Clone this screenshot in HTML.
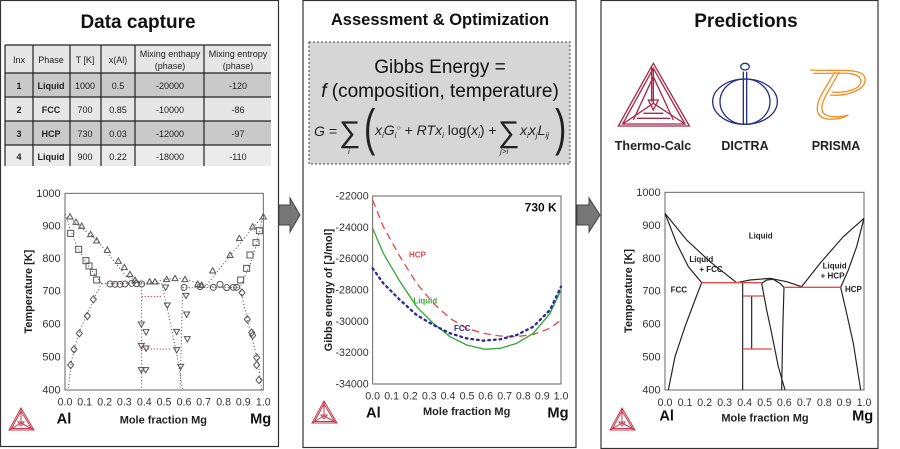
<!DOCTYPE html>
<html><head><meta charset="utf-8"><style>
html,body{margin:0;padding:0;background:#fff;}
svg{display:block;font-family:"Liberation Sans",Arial,sans-serif;}
</style></head><body>
<svg width="900" height="449" viewBox="0 0 900 449" xmlns="http://www.w3.org/2000/svg">
<defs>
<path id="tu" d="M0,-9 L9,7 L-9,7 Z" fill="none" stroke="#555" stroke-width="3"/>
<path id="td" d="M0,9 L9,-7 L-9,-7 Z" fill="none" stroke="#555" stroke-width="3"/>
<rect id="sq" x="-9" y="-9" width="18" height="18" fill="none" stroke="#555" stroke-width="3"/>
<circle id="ci" r="9" fill="none" stroke="#555" stroke-width="3"/>
<path id="di" d="M0,-11 L9,0 L0,11 L-9,0 Z" fill="none" stroke="#555" stroke-width="3"/>
<g id="logo" fill="none" stroke="#c0394e" stroke-width="1">
<path d="M12,0 L0,22 L25,22 Z"/><path d="M12,3 L2.5,20.5 L22.5,20.5 Z"/>
<path d="M12,0 L12,15 L0,22 M12,15 L25,22"/><path d="M9,14 L15,14 L12,18 Z"/>
</g>
</defs>

<!-- panel borders -->
<rect x="0.5" y="0.5" width="278" height="446" fill="none" stroke="#333" stroke-width="1.2"/>
<rect x="303" y="0.5" width="273" height="447" fill="none" stroke="#333" stroke-width="1.2"/>
<rect x="601" y="0.5" width="277" height="448" fill="none" stroke="#333" stroke-width="1.2"/>

<!-- arrows -->
<polygon points="279,205 290,205 290,198 300,215 290,232 290,225 279,225" fill="#777" stroke="#444" stroke-width="1"/>
<polygon points="577,205 589,205 589,198 600,215 589,232 589,225 577,225" fill="#777" stroke="#444" stroke-width="1"/>

<!-- titles -->
<text x="138" y="28" font-size="19" font-weight="bold" text-anchor="middle" fill="#111">Data capture</text>
<text x="440" y="25" font-size="16.5" font-weight="bold" text-anchor="middle" fill="#111">Assessment &amp; Optimization</text>
<text x="746" y="27" font-size="19" font-weight="bold" text-anchor="middle" fill="#111">Predictions</text>

<!-- table -->
<g font-size="9" fill="#222" text-anchor="middle">
<rect x="5" y="45" width="266" height="28" fill="#e6e6e6"/>
<rect x="5" y="73" width="266" height="24" fill="#c9c9c9"/>
<rect x="5" y="97" width="266" height="24" fill="#e6e6e6"/>
<rect x="5" y="121" width="266" height="24" fill="#c9c9c9"/>
<rect x="5" y="145" width="266" height="21" fill="#ebebeb"/>
<g stroke="#222" stroke-width="1.2">
<line x1="5" y1="45" x2="271" y2="45"/><line x1="5" y1="73" x2="271" y2="73"/>
<line x1="5" y1="97" x2="271" y2="97"/><line x1="5" y1="121" x2="271" y2="121"/>
<line x1="5" y1="145" x2="271" y2="145"/>
<line x1="5" y1="45" x2="5" y2="166"/><line x1="33" y1="45" x2="33" y2="166"/>
<line x1="70" y1="45" x2="70" y2="166"/><line x1="101" y1="45" x2="101" y2="166"/>
<line x1="135" y1="45" x2="135" y2="166"/><line x1="204" y1="45" x2="204" y2="166"/>
</g>
<text x="19" y="63">Inx</text><text x="51" y="63">Phase</text><text x="85" y="63">T [K]</text><text x="118" y="63">x(Al)</text>
<text x="170" y="57">Mixing enthapy</text><text x="170" y="69">(phase)</text>
<text x="238" y="57">Mixing entropy</text><text x="238" y="69">(phase)</text>
<g font-weight="bold">
<text x="19" y="89">1</text><text x="51" y="89">Liquid</text>
<text x="19" y="113">2</text><text x="51" y="113">FCC</text>
<text x="19" y="137">3</text><text x="51" y="137">HCP</text>
<text x="19" y="160">4</text><text x="51" y="160">Liquid</text>
</g>
<text x="85" y="89">1000</text><text x="118" y="89">0.5</text><text x="170" y="89">-20000</text><text x="238" y="89">-120</text>
<text x="85" y="113">700</text><text x="118" y="113">0.85</text><text x="170" y="113">-10000</text><text x="238" y="113">-86</text>
<text x="85" y="137">730</text><text x="118" y="137">0.03</text><text x="170" y="137">-12000</text><text x="238" y="137">-97</text>
<text x="85" y="160">900</text><text x="118" y="160">0.22</text><text x="170" y="160">-18000</text><text x="238" y="160">-110</text>
</g>

<!-- LEFT CHART (zoom coords) -->
<g transform="translate(0,180) scale(0.33333)">
<rect x="195" y="40" width="595" height="590" fill="none" stroke="#666" stroke-width="3"/>
<g font-size="33" fill="#333" text-anchor="end">
<text x="182" y="51">1000</text><text x="182" y="148">900</text><text x="182" y="246">800</text><text x="182" y="344">700</text><text x="182" y="443">600</text><text x="182" y="541">500</text><text x="182" y="641">400</text>
</g>
<g font-size="32" fill="#333" text-anchor="middle">
<text x="195" y="676">0.0</text><text x="254" y="676">0.1</text><text x="314" y="676">0.2</text><text x="373" y="676">0.3</text><text x="433" y="676">0.4</text><text x="492" y="676">0.5</text><text x="552" y="676">0.6</text><text x="611" y="676">0.7</text><text x="671" y="676">0.8</text><text x="730" y="676">0.9</text><text x="790" y="676">1.0</text>
</g>
<text x="192" y="730" font-size="44" font-weight="bold" text-anchor="middle" fill="#111">Al</text>
<text x="490" y="730" font-size="33" font-weight="bold" text-anchor="middle" fill="#222">Mole fraction Mg</text>
<text x="782" y="730" font-size="44" font-weight="bold" text-anchor="middle" fill="#111">Mg</text>
<text transform="translate(96,335) rotate(-90)" font-size="33" font-weight="bold" text-anchor="middle" fill="#222">Temperature [K]</text>
<g fill="none" stroke="#444" stroke-width="3" stroke-dasharray="3,7">
<polyline points="195,103 290,180 380,290 430,310"/>
<polyline points="195,103 230,200 270,265 305,310"/>
<polyline points="305,310 280,360 240,450 215,540 205,625"/>
<line x1="425" y1="310" x2="425" y2="630"/>
<polyline points="485,310 505,400 530,520 548,630"/>
<polyline points="548,320 545,450 540,630"/>
<polyline points="430,310 520,295 555,296 600,312 650,323"/>
<polyline points="620,315 700,215 790,105"/>
<polyline points="790,105 760,230 720,323"/>
<polyline points="720,323 745,430 775,550 785,630"/>
</g>
<g fill="none" stroke="#e04040" stroke-width="3" stroke-dasharray="4,5">
<line x1="305" y1="310" x2="480" y2="310"/><line x1="425" y1="350" x2="488" y2="350"/>
<line x1="425" y1="507" x2="515" y2="507"/><line x1="548" y1="323" x2="720" y2="323"/>
</g>
<g>
<use href="#tu" x="210" y="110"/><use href="#tu" x="228" y="126"/><use href="#tu" x="245" y="138"/><use href="#tu" x="272" y="163"/><use href="#tu" x="290" y="182"/><use href="#tu" x="322" y="210"/><use href="#tu" x="355" y="243"/><use href="#tu" x="373" y="262"/><use href="#tu" x="390" y="283"/><use href="#tu" x="405" y="300"/><use href="#tu" x="449" y="305"/><use href="#tu" x="465" y="305"/><use href="#tu" x="500" y="298"/><use href="#tu" x="525" y="295"/><use href="#tu" x="555" y="298"/><use href="#tu" x="593" y="312"/><use href="#tu" x="605" y="315"/><use href="#tu" x="638" y="272"/><use href="#tu" x="690" y="225"/><use href="#tu" x="718" y="175"/><use href="#tu" x="758" y="140"/><use href="#tu" x="790" y="110"/>
<use href="#sq" x="212" y="160"/><use href="#sq" x="236" y="208"/><use href="#sq" x="258" y="242"/><use href="#sq" x="267" y="258"/><use href="#sq" x="280" y="277"/><use href="#sq" x="290" y="300"/><use href="#sq" x="722" y="300"/><use href="#sq" x="740" y="265"/><use href="#sq" x="750" y="225"/><use href="#sq" x="768" y="188"/><use href="#sq" x="778" y="152"/>
<use href="#ci" x="330" y="312"/><use href="#ci" x="345" y="313"/><use href="#ci" x="360" y="313"/><use href="#ci" x="375" y="312"/><use href="#ci" x="395" y="310"/><use href="#ci" x="410" y="311"/><use href="#ci" x="425" y="312"/><use href="#ci" x="552" y="322"/><use href="#ci" x="600" y="320"/><use href="#ci" x="640" y="322"/><use href="#ci" x="660" y="313"/><use href="#ci" x="680" y="323"/><use href="#ci" x="700" y="322"/><use href="#ci" x="710" y="322"/>
<use href="#di" x="212" y="555"/><use href="#di" x="222" y="508"/><use href="#di" x="238" y="460"/><use href="#di" x="262" y="408"/><use href="#di" x="280" y="358"/><use href="#di" x="726" y="338"/><use href="#di" x="742" y="418"/><use href="#di" x="755" y="458"/><use href="#di" x="758" y="466"/><use href="#di" x="770" y="533"/><use href="#di" x="770" y="555"/><use href="#di" x="777" y="600"/>
<use href="#td" x="424" y="433"/><use href="#td" x="438" y="456"/><use href="#td" x="424" y="497"/><use href="#td" x="438" y="505"/><use href="#td" x="424" y="570"/><use href="#td" x="437" y="570"/><use href="#td" x="497" y="322"/><use href="#td" x="502" y="376"/><use href="#td" x="530" y="455"/><use href="#td" x="530" y="510"/><use href="#td" x="558" y="347"/><use href="#td" x="560" y="403"/><use href="#td" x="562" y="477"/><use href="#td" x="542" y="560"/>
</g>
</g>
<use href="#logo" x="9" y="408"/>

<!-- MIDDLE -->
<rect x="309" y="42" width="261" height="122" fill="#d6d6d6" stroke="#444" stroke-width="1" stroke-dasharray="2,2"/>
<text x="440" y="73" font-size="19" text-anchor="middle" fill="#111">Gibbs Energy =</text>
<text x="440" y="97" font-size="19" text-anchor="middle" fill="#111"><tspan font-style="italic">f</tspan> (composition, temperature)</text>
<g fill="#222" font-size="14" font-style="italic">
<text x="314" y="136">G =</text>
<text x="339" y="142" font-size="30" font-style="normal">∑</text>
<text x="348" y="154" font-size="8">i</text>
<text x="364" y="145" font-size="34" font-style="normal" transform="translate(364,145) scale(1,1.5) translate(-364,-145)">(</text>
<text x="375" y="135">x<tspan font-size="8" dy="3">i</tspan><tspan dy="-3">G</tspan><tspan font-size="8" dy="3">i</tspan><tspan font-size="7" dy="-8" font-style="normal">○</tspan><tspan dy="5" font-style="normal"> + </tspan><tspan>RTx</tspan><tspan font-size="8" dy="3">i</tspan><tspan dy="-3" font-style="normal"> log(</tspan><tspan>x</tspan><tspan font-size="8" dy="3">i</tspan><tspan dy="-3" font-style="normal">) +</tspan></text>
<text x="498" y="142" font-size="30" font-style="normal">∑</text>
<text x="500" y="154" font-size="8">j&gt;i</text>
<text x="520" y="135">x<tspan font-size="8" dy="3">i</tspan><tspan dy="-3">x</tspan><tspan font-size="8" dy="3">j</tspan><tspan dy="-3">L</tspan><tspan font-size="8" dy="3">ij</tspan></text>
<text x="555" y="145" font-size="34" font-style="normal" transform="translate(555,145) scale(1,1.5) translate(-555,-145)">)</text>
</g>

<g transform="translate(300,0) scale(0.33333)">
<rect x="218" y="588" width="565" height="564" fill="none" stroke="#666" stroke-width="3"/>
<g font-size="32" fill="#333" text-anchor="end">
<text x="206" y="599">-22000</text><text x="206" y="693">-24000</text><text x="206" y="786">-26000</text><text x="206" y="881">-28000</text><text x="206" y="975">-30000</text><text x="206" y="1068">-32000</text><text x="206" y="1163">-34000</text>
</g>
<g font-size="32" fill="#333" text-anchor="middle">
<text x="218" y="1198">0.0</text><text x="275" y="1198">0.1</text><text x="331" y="1198">0.2</text><text x="388" y="1198">0.3</text><text x="444" y="1198">0.4</text><text x="501" y="1198">0.5</text><text x="557" y="1198">0.6</text><text x="614" y="1198">0.7</text><text x="670" y="1198">0.8</text><text x="727" y="1198">0.9</text><text x="783" y="1198">1.0</text>
</g>
<text x="220" y="1252" font-size="44" font-weight="bold" text-anchor="middle" fill="#111">Al</text>
<text x="500" y="1245" font-size="33" font-weight="bold" text-anchor="middle" fill="#222">Mole fraction Mg</text>
<text x="774" y="1252" font-size="44" font-weight="bold" text-anchor="middle" fill="#111">Mg</text>
<text transform="translate(96,870) rotate(-90)" font-size="33" font-weight="bold" text-anchor="middle" fill="#222">Gibbs energy of [J/mol]</text>
<text x="770" y="635" font-size="36" font-weight="bold" text-anchor="end" fill="#111">730 K</text>
<polyline fill="none" stroke="#e84848" stroke-width="4" stroke-dasharray="22,14" points="218,600 250,680 300,770 350,850 400,910 450,955 500,985 550,1000 600,1008 650,1010 700,1003 750,985 783,960"/>
<polyline fill="none" stroke="#38a838" stroke-width="4" points="218,685 250,760 300,845 350,920 400,970 450,1010 500,1035 555,1048 600,1045 650,1030 700,1000 750,940 783,870"/>
<polyline fill="none" stroke="#2a2aa0" stroke-width="7" stroke-dasharray="5,12" stroke-linecap="round" points="218,805 250,850 300,900 350,945 400,975 450,1000 500,1015 550,1022 600,1018 650,1005 700,980 750,930 783,860"/>
<text x="327" y="772" font-size="24" font-weight="bold" fill="#e84848">HCP</text>
<text x="340" y="910" font-size="24" font-weight="bold" fill="#38a838">Liquid</text>
<text x="462" y="993" font-size="24" font-weight="bold" fill="#2a2aa0">FCC</text>
</g>
<use href="#logo" x="312" y="401"/>

<!-- RIGHT logos -->
<g transform="translate(600,0) scale(0.33333)" fill="none">
<g stroke="#a8284a" stroke-width="4">
<path d="M160,190 L55,378 L268,378 Z"/><path d="M160,205 L68,372 L255,372 Z"/>
<path d="M160,205 L160,310 M155,200 L155,305 M160,310 L68,372 M160,310 L255,372"/>
<path d="M145,300 L175,300 L160,330 Z M130,340 L190,340 M110,355 L210,355"/>
<path d="M160,230 L100,360 M160,230 L220,360"/>
</g>
<g stroke="#2a3080" stroke-width="4">
<ellipse cx="435" cy="305" rx="97" ry="68"/><ellipse cx="435" cy="305" rx="75" ry="68"/>
<ellipse cx="435" cy="200" rx="13" ry="10"/>
<path d="M430,215 L430,372 M440,215 L440,372"/>
</g>
<g stroke="#f0902a" stroke-width="4">
<path d="M630,210 C700,215 790,200 795,235 C800,270 740,290 690,285"/>
<path d="M640,220 C700,222 778,210 782,240 C786,268 738,280 695,276"/>
<path d="M705,215 C680,260 640,310 655,340 C665,365 720,360 745,345"/>
<path d="M718,215 C695,260 655,310 668,335 C678,355 720,352 745,345"/>
</g>
</g>
<g font-size="12.5" font-weight="bold" fill="#222" text-anchor="middle">
<text x="653" y="150">Thermo-Calc</text><text x="745" y="150">DICTRA</text><text x="836" y="150">PRISMA</text>
</g>

<!-- RIGHT CHART -->
<g transform="translate(600,0) scale(0.33333)">
<rect x="195" y="577" width="597" height="593" fill="none" stroke="#666" stroke-width="3"/>
<g font-size="33" fill="#333" text-anchor="end">
<text x="182" y="588">1000</text><text x="182" y="687">900</text><text x="182" y="786">800</text><text x="182" y="884">700</text><text x="182" y="983">600</text><text x="182" y="1082">500</text><text x="182" y="1181">400</text>
</g>
<g font-size="32" fill="#333" text-anchor="middle">
<text x="195" y="1218">0.0</text><text x="255" y="1218">0.1</text><text x="314" y="1218">0.2</text><text x="374" y="1218">0.3</text><text x="434" y="1218">0.4</text><text x="494" y="1218">0.5</text><text x="553" y="1218">0.6</text><text x="613" y="1218">0.7</text><text x="673" y="1218">0.8</text><text x="732" y="1218">0.9</text><text x="792" y="1218">1.0</text>
</g>
<text x="200" y="1262" font-size="44" font-weight="bold" text-anchor="middle" fill="#111">Al</text>
<text x="495" y="1265" font-size="33" font-weight="bold" text-anchor="middle" fill="#222">Mole fraction Mg</text>
<text x="788" y="1262" font-size="44" font-weight="bold" text-anchor="middle" fill="#111">Mg</text>
<text transform="translate(96,873) rotate(-90)" font-size="33" font-weight="bold" text-anchor="middle" fill="#222">Temperature [K]</text>
<g fill="none" stroke="#222" stroke-width="3.5">
<polyline points="195,640 260,720 330,785 410,848"/>
<polyline points="195,640 230,730 265,800 305,848"/>
<polyline points="305,848 285,900 255,980 225,1070 205,1170"/>
<line x1="428" y1="848" x2="428" y2="1170"/>
<line x1="455" y1="888" x2="455" y2="1047"/>
<polyline points="485,850 500,930 515,1000 535,1100 555,1170"/>
<polyline points="552,862 548,1000 545,1170"/>
<polyline points="410,848 450,840 510,835 560,845 605,860"/>
<polyline points="485,850 500,840 520,838 540,850 552,862"/>
<polyline points="605,860 660,790 730,710 792,655"/>
<polyline points="792,655 770,740 745,810 722,862"/>
<polyline points="722,862 740,940 760,1030 782,1170"/>
</g>
<g stroke="#e84848" stroke-width="4">
<line x1="305" y1="848" x2="485" y2="848"/><line x1="428" y1="888" x2="490" y2="888"/>
<line x1="428" y1="1047" x2="515" y2="1047"/><line x1="552" y1="862" x2="722" y2="862"/>
</g>
<g font-size="24" font-weight="bold" fill="#222">
<text x="482" y="716" text-anchor="middle">Liquid</text>
<text x="268" y="786">Liquid</text><text x="298" y="816">+ FCC</text>
<text x="212" y="878">FCC</text>
<text x="668" y="806">Liquid</text><text x="662" y="836">+ HCP</text>
<text x="735" y="876">HCP</text>
</g>
</g>
<use href="#logo" x="610" y="408"/>
</svg>
</body></html>
